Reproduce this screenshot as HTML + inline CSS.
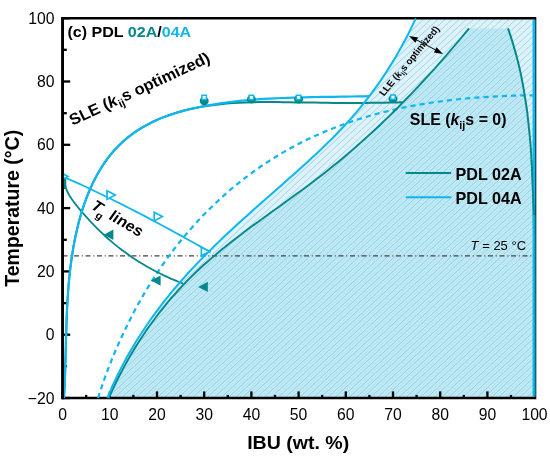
<!DOCTYPE html>
<html><head><meta charset="utf-8"><title>PDL 02A/04A phase diagram</title>
<style>
html,body{margin:0;padding:0;background:#fff;}
body{width:550px;height:462px;overflow:hidden;}
svg{display:block;}
text{font-family:"Liberation Sans",Arial,Helvetica,sans-serif;fill:#000;}
.b{font-weight:bold;}
.i{font-style:italic;}
</style></head><body>
<svg width="550" height="462" viewBox="0 0 550 462">
<defs>
<clipPath id="cp"><rect x="62.6" y="18.2" width="472" height="379.8"/></clipPath>
<clipPath id="cp3"><rect x="62.6" y="18.2" width="472.4" height="381.1"/></clipPath>
<clipPath id="cp2"><rect x="62.6" y="0" width="480" height="420"/></clipPath>
</defs>
<rect width="550" height="462" fill="#fff"/>
<g clip-path="url(#cp)">
<path d="M107.4,398.0 L109.8,392.2 L112.2,386.5 L114.8,380.8 L117.5,375.2 L120.3,369.6 L123.2,364.1 L126.1,358.6 L129.2,353.1 L132.4,347.7 L135.6,342.3 L138.9,337.0 L142.3,331.7 L145.8,326.5 L149.4,321.3 L153.0,316.2 L156.7,311.2 L160.5,306.1 L164.3,301.2 L168.2,296.3 L172.2,291.4 L176.2,286.6 L180.3,281.9 L184.5,277.2 L188.6,272.5 L192.9,267.9 L197.2,263.4 L201.5,258.9 L205.9,254.5 L210.3,250.1 L214.7,245.7 L219.2,241.4 L223.7,237.0 L228.3,232.8 L232.9,228.5 L237.4,224.3 L242.1,220.1 L246.7,215.9 L251.4,211.7 L256.0,207.6 L260.7,203.4 L265.4,199.3 L270.1,195.2 L274.8,191.0 L279.5,186.9 L284.2,182.7 L288.9,178.6 L293.6,174.4 L298.3,170.3 L302.9,166.1 L307.5,161.9 L312.1,157.6 L316.7,153.4 L321.2,149.1 L325.7,144.7 L330.2,140.4 L334.6,136.0 L338.9,131.5 L343.2,127.0 L347.4,122.4 L351.5,117.8 L355.6,113.1 L359.6,108.3 L363.5,103.5 L367.4,98.6 L371.2,93.7 L374.9,88.6 L378.5,83.6 L382.1,78.4 L385.5,73.2 L388.9,67.9 L392.2,62.6 L395.5,57.3 L398.6,51.8 L401.7,46.3 L404.7,40.8 L407.6,35.2 L410.4,29.6 L413.1,23.9 L415.8,18.2 L534.6,18.2 L534.6,398 Z" fill="#daf3fc"/>
<path d="M108.8,398.0 L111.2,392.6 L113.7,387.3 L116.2,382.0 L118.9,376.8 L121.6,371.6 L124.3,366.4 L127.2,361.2 L130.1,356.1 L133.1,351.1 L136.2,346.1 L139.3,341.1 L142.5,336.2 L145.8,331.3 L149.1,326.5 L152.6,321.7 L156.1,317.0 L159.6,312.4 L163.3,307.8 L167.0,303.2 L170.7,298.7 L174.6,294.3 L178.5,290.0 L182.5,285.7 L186.5,281.5 L190.6,277.4 L194.8,273.3 L199.0,269.3 L203.3,265.3 L207.7,261.5 L212.1,257.6 L216.5,253.9 L221.1,250.1 L225.6,246.5 L230.2,242.8 L234.8,239.2 L239.4,235.7 L244.1,232.1 L248.8,228.6 L253.5,225.1 L258.3,221.7 L263.0,218.2 L267.8,214.8 L272.6,211.3 L277.3,207.9 L282.1,204.5 L286.9,201.0 L291.6,197.6 L296.4,194.1 L301.1,190.7 L305.8,187.2 L310.5,183.7 L315.2,180.1 L319.9,176.5 L324.5,172.9 L329.1,169.3 L333.6,165.6 L338.2,161.9 L342.6,158.2 L347.1,154.4 L351.5,150.6 L356.0,146.8 L360.3,142.9 L364.7,139.0 L369.0,135.1 L373.3,131.2 L377.6,127.2 L381.8,123.2 L386.0,119.1 L390.2,115.1 L394.4,111.0 L398.5,106.8 L402.6,102.7 L406.7,98.5 L410.8,94.3 L414.8,90.1 L418.8,85.8 L422.8,81.5 L426.8,77.2 L430.7,72.9 L434.7,68.6 L438.6,64.2 L442.4,59.8 L446.3,55.4 L450.1,50.9 L453.9,46.5 L457.7,42.0 L461.5,37.5 L465.3,32.9 L469.0,28.4 L508.0,28.4 L510.3,35.1 L512.4,41.8 L514.4,48.6 L516.3,55.3 L518.1,62.2 L519.7,69.0 L521.2,75.9 L522.5,82.8 L523.8,89.7 L524.9,96.6 L526.0,103.6 L527.0,110.5 L527.8,117.5 L528.6,124.5 L529.3,131.5 L530.0,138.5 L530.6,145.6 L531.1,152.6 L531.5,159.7 L531.9,166.7 L532.3,173.7 L532.6,180.8 L532.8,187.8 L533.1,194.9 L533.3,201.9 L533.5,209.0 L533.7,216.0 L533.8,223.0 L534.0,230.0 L534.6,398 Z" fill="#beebf7"/>
<clipPath id="cb"><path d="M107.4,398.0 L109.8,392.2 L112.2,386.5 L114.8,380.8 L117.5,375.2 L120.3,369.6 L123.2,364.1 L126.1,358.6 L129.2,353.1 L132.4,347.7 L135.6,342.3 L138.9,337.0 L142.3,331.7 L145.8,326.5 L149.4,321.3 L153.0,316.2 L156.7,311.2 L160.5,306.1 L164.3,301.2 L168.2,296.3 L172.2,291.4 L176.2,286.6 L180.3,281.9 L184.5,277.2 L188.6,272.5 L192.9,267.9 L197.2,263.4 L201.5,258.9 L205.9,254.5 L210.3,250.1 L214.7,245.7 L219.2,241.4 L223.7,237.0 L228.3,232.8 L232.9,228.5 L237.4,224.3 L242.1,220.1 L246.7,215.9 L251.4,211.7 L256.0,207.6 L260.7,203.4 L265.4,199.3 L270.1,195.2 L274.8,191.0 L279.5,186.9 L284.2,182.7 L288.9,178.6 L293.6,174.4 L298.3,170.3 L302.9,166.1 L307.5,161.9 L312.1,157.6 L316.7,153.4 L321.2,149.1 L325.7,144.7 L330.2,140.4 L334.6,136.0 L338.9,131.5 L343.2,127.0 L347.4,122.4 L351.5,117.8 L355.6,113.1 L359.6,108.3 L363.5,103.5 L367.4,98.6 L371.2,93.7 L374.9,88.6 L378.5,83.6 L382.1,78.4 L385.5,73.2 L388.9,67.9 L392.2,62.6 L395.5,57.3 L398.6,51.8 L401.7,46.3 L404.7,40.8 L407.6,35.2 L410.4,29.6 L413.1,23.9 L415.8,18.2 L534.6,18.2 L534.6,398 Z"/></clipPath>
<clipPath id="ct"><path d="M108.8,398.0 L111.2,392.6 L113.7,387.3 L116.2,382.0 L118.9,376.8 L121.6,371.6 L124.3,366.4 L127.2,361.2 L130.1,356.1 L133.1,351.1 L136.2,346.1 L139.3,341.1 L142.5,336.2 L145.8,331.3 L149.1,326.5 L152.6,321.7 L156.1,317.0 L159.6,312.4 L163.3,307.8 L167.0,303.2 L170.7,298.7 L174.6,294.3 L178.5,290.0 L182.5,285.7 L186.5,281.5 L190.6,277.4 L194.8,273.3 L199.0,269.3 L203.3,265.3 L207.7,261.5 L212.1,257.6 L216.5,253.9 L221.1,250.1 L225.6,246.5 L230.2,242.8 L234.8,239.2 L239.4,235.7 L244.1,232.1 L248.8,228.6 L253.5,225.1 L258.3,221.7 L263.0,218.2 L267.8,214.8 L272.6,211.3 L277.3,207.9 L282.1,204.5 L286.9,201.0 L291.6,197.6 L296.4,194.1 L301.1,190.7 L305.8,187.2 L310.5,183.7 L315.2,180.1 L319.9,176.5 L324.5,172.9 L329.1,169.3 L333.6,165.6 L338.2,161.9 L342.6,158.2 L347.1,154.4 L351.5,150.6 L356.0,146.8 L360.3,142.9 L364.7,139.0 L369.0,135.1 L373.3,131.2 L377.6,127.2 L381.8,123.2 L386.0,119.1 L390.2,115.1 L394.4,111.0 L398.5,106.8 L402.6,102.7 L406.7,98.5 L410.8,94.3 L414.8,90.1 L418.8,85.8 L422.8,81.5 L426.8,77.2 L430.7,72.9 L434.7,68.6 L438.6,64.2 L442.4,59.8 L446.3,55.4 L450.1,50.9 L453.9,46.5 L457.7,42.0 L461.5,37.5 L465.3,32.9 L469.0,28.4 L508.0,28.4 L510.3,35.1 L512.4,41.8 L514.4,48.6 L516.3,55.3 L518.1,62.2 L519.7,69.0 L521.2,75.9 L522.5,82.8 L523.8,89.7 L524.9,96.6 L526.0,103.6 L527.0,110.5 L527.8,117.5 L528.6,124.5 L529.3,131.5 L530.0,138.5 L530.6,145.6 L531.1,152.6 L531.5,159.7 L531.9,166.7 L532.3,173.7 L532.6,180.8 L532.8,187.8 L533.1,194.9 L533.3,201.9 L533.5,209.0 L533.7,216.0 L533.8,223.0 L534.0,230.0 L534.6,398 Z"/></clipPath>
<g clip-path="url(#cb)"><path d="M-326.0,398 L106.0,-2 M-318.9,398 L113.1,-2 M-311.8,398 L120.2,-2 M-304.7,398 L127.3,-2 M-297.6,398 L134.4,-2 M-290.5,398 L141.5,-2 M-283.4,398 L148.6,-2 M-276.3,398 L155.7,-2 M-269.2,398 L162.8,-2 M-262.1,398 L169.9,-2 M-255.0,398 L177.0,-2 M-247.9,398 L184.1,-2 M-240.8,398 L191.2,-2 M-233.7,398 L198.3,-2 M-226.6,398 L205.4,-2 M-219.5,398 L212.5,-2 M-212.4,398 L219.6,-2 M-205.3,398 L226.7,-2 M-198.2,398 L233.8,-2 M-191.1,398 L240.9,-2 M-184.0,398 L248.0,-2 M-176.9,398 L255.1,-2 M-169.8,398 L262.2,-2 M-162.7,398 L269.3,-2 M-155.6,398 L276.4,-2 M-148.5,398 L283.5,-2 M-141.4,398 L290.6,-2 M-134.3,398 L297.7,-2 M-127.2,398 L304.8,-2 M-120.1,398 L311.9,-2 M-113.0,398 L319.0,-2 M-105.9,398 L326.1,-2 M-98.8,398 L333.2,-2 M-91.7,398 L340.3,-2 M-84.6,398 L347.4,-2 M-77.5,398 L354.5,-2 M-70.4,398 L361.6,-2 M-63.3,398 L368.7,-2 M-56.2,398 L375.8,-2 M-49.1,398 L382.9,-2 M-42.0,398 L390.0,-2 M-34.9,398 L397.1,-2 M-27.8,398 L404.2,-2 M-20.7,398 L411.3,-2 M-13.6,398 L418.4,-2 M-6.5,398 L425.5,-2 M0.6,398 L432.6,-2 M7.7,398 L439.7,-2 M14.8,398 L446.8,-2 M21.9,398 L453.9,-2 M29.0,398 L461.0,-2 M36.1,398 L468.1,-2 M43.2,398 L475.2,-2 M50.3,398 L482.3,-2 M57.4,398 L489.4,-2 M64.5,398 L496.5,-2 M71.6,398 L503.6,-2 M78.7,398 L510.7,-2 M85.8,398 L517.8,-2 M92.9,398 L524.9,-2 M100.0,398 L532.0,-2 M107.1,398 L539.1,-2 M114.2,398 L546.2,-2 M121.3,398 L553.3,-2 M128.4,398 L560.4,-2 M135.5,398 L567.5,-2 M142.6,398 L574.6,-2 M149.7,398 L581.7,-2 M156.8,398 L588.8,-2 M163.9,398 L595.9,-2 M171.0,398 L603.0,-2 M178.1,398 L610.1,-2 M185.2,398 L617.2,-2 M192.3,398 L624.3,-2 M199.4,398 L631.4,-2 M206.5,398 L638.5,-2 M213.6,398 L645.6,-2 M220.7,398 L652.7,-2 M227.8,398 L659.8,-2 M234.9,398 L666.9,-2 M242.0,398 L674.0,-2 M249.1,398 L681.1,-2 M256.2,398 L688.2,-2 M263.3,398 L695.3,-2 M270.4,398 L702.4,-2 M277.5,398 L709.5,-2 M284.6,398 L716.6,-2 M291.7,398 L723.7,-2 M298.8,398 L730.8,-2 M305.9,398 L737.9,-2 M313.0,398 L745.0,-2 M320.1,398 L752.1,-2 M327.2,398 L759.2,-2 M334.3,398 L766.3,-2 M341.4,398 L773.4,-2 M348.5,398 L780.5,-2 M355.6,398 L787.6,-2 M362.7,398 L794.7,-2 M369.8,398 L801.8,-2 M376.9,398 L808.9,-2 M384.0,398 L816.0,-2 M391.1,398 L823.1,-2 M398.2,398 L830.2,-2 M405.3,398 L837.3,-2 M412.4,398 L844.4,-2 M419.5,398 L851.5,-2 M426.6,398 L858.6,-2 M433.7,398 L865.7,-2 M440.8,398 L872.8,-2 M447.9,398 L879.9,-2 M455.0,398 L887.0,-2 M462.1,398 L894.1,-2 M469.2,398 L901.2,-2 M476.3,398 L908.3,-2 M483.4,398 L915.4,-2 M490.5,398 L922.5,-2 M497.6,398 L929.6,-2 M504.7,398 L936.7,-2 M511.8,398 L943.8,-2 M518.9,398 L950.9,-2 M526.0,398 L958.0,-2 M533.1,398 L965.1,-2 M540.2,398 L972.2,-2 M547.3,398 L979.3,-2 M554.4,398 L986.4,-2 M561.5,398 L993.5,-2 M568.6,398 L1000.6,-2 M575.7,398 L1007.7,-2 M582.8,398 L1014.8,-2 M589.9,398 L1021.9,-2 M597.0,398 L1029.0,-2 M604.1,398 L1036.1,-2 M611.2,398 L1043.2,-2 M618.3,398 L1050.3,-2 M625.4,398 L1057.4,-2 M632.5,398 L1064.5,-2 M639.6,398 L1071.6,-2 M646.7,398 L1078.7,-2 M653.8,398 L1085.8,-2 M660.9,398 L1092.9,-2 M668.0,398 L1100.0,-2 M675.1,398 L1107.1,-2 M682.2,398 L1114.2,-2 M689.3,398 L1121.3,-2 M696.4,398 L1128.4,-2 M703.5,398 L1135.5,-2 M710.6,398 L1142.6,-2 M717.7,398 L1149.7,-2 M724.8,398 L1156.8,-2 M731.9,398 L1163.9,-2 M739.0,398 L1171.0,-2 M746.1,398 L1178.1,-2 M753.2,398 L1185.2,-2 M760.3,398 L1192.3,-2 M767.4,398 L1199.4,-2 M774.5,398 L1206.5,-2 M781.6,398 L1213.6,-2 M788.7,398 L1220.7,-2 M795.8,398 L1227.8,-2 M802.9,398 L1234.9,-2 M810.0,398 L1242.0,-2 M817.1,398 L1249.1,-2 M824.2,398 L1256.2,-2 M831.3,398 L1263.3,-2 M838.4,398 L1270.4,-2 M845.5,398 L1277.5,-2 M852.6,398 L1284.6,-2 M859.7,398 L1291.7,-2 M866.8,398 L1298.8,-2 M873.9,398 L1305.9,-2 M881.0,398 L1313.0,-2 M888.1,398 L1320.1,-2 M895.2,398 L1327.2,-2 M902.3,398 L1334.3,-2 M909.4,398 L1341.4,-2 M916.5,398 L1348.5,-2 M923.6,398 L1355.6,-2 M930.7,398 L1362.7,-2 M937.8,398 L1369.8,-2 M944.9,398 L1376.9,-2 M952.0,398 L1384.0,-2 M959.1,398 L1391.1,-2 M966.2,398 L1398.2,-2" stroke="#5b8093" stroke-opacity="0.38" stroke-width="0.8" fill="none"/></g>
<g clip-path="url(#ct)"><path d="M-322.4,398 L109.5,-2 M-315.3,398 L116.6,-2 M-308.2,398 L123.7,-2 M-301.1,398 L130.8,-2 M-294.0,398 L137.9,-2 M-286.9,398 L145.0,-2 M-279.8,398 L152.1,-2 M-272.7,398 L159.2,-2 M-265.6,398 L166.3,-2 M-258.5,398 L173.4,-2 M-251.4,398 L180.5,-2 M-244.3,398 L187.6,-2 M-237.2,398 L194.7,-2 M-230.1,398 L201.8,-2 M-223.0,398 L208.9,-2 M-215.9,398 L216.0,-2 M-208.8,398 L223.1,-2 M-201.7,398 L230.2,-2 M-194.6,398 L237.3,-2 M-187.5,398 L244.4,-2 M-180.4,398 L251.5,-2 M-173.3,398 L258.6,-2 M-166.2,398 L265.7,-2 M-159.1,398 L272.8,-2 M-152.0,398 L279.9,-2 M-144.9,398 L287.0,-2 M-137.8,398 L294.1,-2 M-130.7,398 L301.2,-2 M-123.6,398 L308.3,-2 M-116.5,398 L315.4,-2 M-109.4,398 L322.5,-2 M-102.3,398 L329.6,-2 M-95.2,398 L336.7,-2 M-88.1,398 L343.8,-2 M-81.0,398 L350.9,-2 M-73.9,398 L358.0,-2 M-66.8,398 L365.1,-2 M-59.7,398 L372.2,-2 M-52.6,398 L379.3,-2 M-45.5,398 L386.4,-2 M-38.4,398 L393.5,-2 M-31.3,398 L400.6,-2 M-24.2,398 L407.7,-2 M-17.1,398 L414.8,-2 M-10.0,398 L421.9,-2 M-2.9,398 L429.0,-2 M4.2,398 L436.1,-2 M11.3,398 L443.2,-2 M18.4,398 L450.3,-2 M25.5,398 L457.4,-2 M32.6,398 L464.5,-2 M39.7,398 L471.6,-2 M46.8,398 L478.7,-2 M53.9,398 L485.8,-2 M61.0,398 L492.9,-2 M68.1,398 L500.0,-2 M75.2,398 L507.1,-2 M82.3,398 L514.2,-2 M89.4,398 L521.3,-2 M96.5,398 L528.4,-2 M103.6,398 L535.5,-2 M110.7,398 L542.6,-2 M117.8,398 L549.7,-2 M124.9,398 L556.8,-2 M132.0,398 L563.9,-2 M139.1,398 L571.0,-2 M146.2,398 L578.1,-2 M153.3,398 L585.2,-2 M160.4,398 L592.3,-2 M167.5,398 L599.4,-2 M174.6,398 L606.5,-2 M181.7,398 L613.6,-2 M188.8,398 L620.7,-2 M195.8,398 L627.8,-2 M202.9,398 L634.9,-2 M210.0,398 L642.0,-2 M217.1,398 L649.1,-2 M224.2,398 L656.2,-2 M231.3,398 L663.3,-2 M238.4,398 L670.4,-2 M245.5,398 L677.5,-2 M252.6,398 L684.6,-2 M259.7,398 L691.7,-2 M266.8,398 L698.8,-2 M273.9,398 L705.9,-2 M281.1,398 L713.0,-2 M288.2,398 L720.1,-2 M295.3,398 L727.2,-2 M302.4,398 L734.3,-2 M309.5,398 L741.4,-2 M316.6,398 L748.5,-2 M323.7,398 L755.6,-2 M330.8,398 L762.7,-2 M337.9,398 L769.8,-2 M345.0,398 L776.9,-2 M352.1,398 L784.0,-2 M359.2,398 L791.1,-2 M366.3,398 L798.2,-2 M373.4,398 L805.3,-2 M380.5,398 L812.4,-2 M387.6,398 L819.5,-2 M394.7,398 L826.6,-2 M401.8,398 L833.7,-2 M408.9,398 L840.8,-2 M416.0,398 L847.9,-2 M423.1,398 L855.0,-2 M430.2,398 L862.1,-2 M437.3,398 L869.2,-2 M444.4,398 L876.3,-2 M451.5,398 L883.4,-2 M458.6,398 L890.5,-2 M465.7,398 L897.6,-2 M472.8,398 L904.7,-2 M479.9,398 L911.8,-2 M487.0,398 L918.9,-2 M494.1,398 L926.0,-2 M501.2,398 L933.1,-2 M508.3,398 L940.2,-2 M515.4,398 L947.3,-2 M522.5,398 L954.4,-2 M529.6,398 L961.5,-2 M536.7,398 L968.6,-2 M543.8,398 L975.7,-2 M550.9,398 L982.8,-2 M558.0,398 L989.9,-2 M565.1,398 L997.0,-2 M572.2,398 L1004.1,-2 M579.3,398 L1011.2,-2 M586.4,398 L1018.3,-2 M593.5,398 L1025.4,-2 M600.6,398 L1032.5,-2 M607.7,398 L1039.6,-2 M614.8,398 L1046.7,-2 M621.9,398 L1053.8,-2 M629.0,398 L1060.9,-2 M636.1,398 L1068.0,-2 M643.2,398 L1075.1,-2 M650.3,398 L1082.2,-2 M657.4,398 L1089.3,-2 M664.5,398 L1096.4,-2 M671.6,398 L1103.5,-2 M678.7,398 L1110.6,-2 M685.8,398 L1117.7,-2 M692.9,398 L1124.8,-2 M700.0,398 L1131.9,-2 M707.1,398 L1139.0,-2 M714.2,398 L1146.1,-2 M721.3,398 L1153.2,-2 M728.4,398 L1160.3,-2 M735.5,398 L1167.4,-2 M742.6,398 L1174.5,-2 M749.7,398 L1181.6,-2 M756.8,398 L1188.7,-2 M763.9,398 L1195.8,-2 M771.0,398 L1202.9,-2 M778.1,398 L1210.0,-2 M785.2,398 L1217.1,-2 M792.3,398 L1224.2,-2 M799.4,398 L1231.3,-2 M806.5,398 L1238.4,-2 M813.6,398 L1245.5,-2 M820.7,398 L1252.6,-2 M827.8,398 L1259.7,-2 M834.9,398 L1266.8,-2 M842.0,398 L1273.9,-2 M849.1,398 L1281.0,-2 M856.2,398 L1288.1,-2 M863.3,398 L1295.2,-2 M870.4,398 L1302.3,-2 M877.5,398 L1309.4,-2 M884.6,398 L1316.5,-2 M891.7,398 L1323.6,-2 M898.8,398 L1330.7,-2 M905.9,398 L1337.8,-2 M913.0,398 L1344.9,-2 M920.1,398 L1352.0,-2 M927.2,398 L1359.1,-2 M934.3,398 L1366.2,-2 M941.4,398 L1373.3,-2 M948.5,398 L1380.4,-2 M955.6,398 L1387.5,-2 M962.7,398 L1394.6,-2 M969.8,398 L1401.7,-2" stroke="#3f9fb5" stroke-opacity="0.14" stroke-width="0.7" fill="none"/></g>
</g>
<path d="M62.6,17 V399.3 M61.3,398 H536.2 M535,399.3 V17 M61.3,18.3 H536.2" stroke="#000" stroke-width="2.6" fill="none"/>
<g stroke="#000" stroke-width="2.3">
<line x1="62.6" y1="398" x2="62.6" y2="391.4"/>
<line x1="109.8" y1="398" x2="109.8" y2="391.4"/>
<line x1="157.0" y1="398" x2="157.0" y2="391.4"/>
<line x1="204.2" y1="398" x2="204.2" y2="391.4"/>
<line x1="251.4" y1="398" x2="251.4" y2="391.4"/>
<line x1="298.6" y1="398" x2="298.6" y2="391.4"/>
<line x1="345.8" y1="398" x2="345.8" y2="391.4"/>
<line x1="393.0" y1="398" x2="393.0" y2="391.4"/>
<line x1="440.2" y1="398" x2="440.2" y2="391.4"/>
<line x1="487.4" y1="398" x2="487.4" y2="391.4"/>
<line x1="534.5" y1="398" x2="534.5" y2="391.4"/>
<line x1="86.2" y1="398" x2="86.2" y2="394.9"/>
<line x1="133.4" y1="398" x2="133.4" y2="394.9"/>
<line x1="180.6" y1="398" x2="180.6" y2="394.9"/>
<line x1="227.8" y1="398" x2="227.8" y2="394.9"/>
<line x1="275.0" y1="398" x2="275.0" y2="394.9"/>
<line x1="322.2" y1="398" x2="322.2" y2="394.9"/>
<line x1="369.4" y1="398" x2="369.4" y2="394.9"/>
<line x1="416.6" y1="398" x2="416.6" y2="394.9"/>
<line x1="463.8" y1="398" x2="463.8" y2="394.9"/>
<line x1="511.0" y1="398" x2="511.0" y2="394.9"/>
<line x1="62.6" y1="398.0" x2="70.2" y2="398.0"/>
<line x1="62.6" y1="334.7" x2="70.2" y2="334.7"/>
<line x1="62.6" y1="271.4" x2="70.2" y2="271.4"/>
<line x1="62.6" y1="208.1" x2="70.2" y2="208.1"/>
<line x1="62.6" y1="144.8" x2="70.2" y2="144.8"/>
<line x1="62.6" y1="81.5" x2="70.2" y2="81.5"/>
<line x1="62.6" y1="18.2" x2="70.2" y2="18.2"/>
<line x1="62.6" y1="366.3" x2="66.8" y2="366.3"/>
<line x1="62.6" y1="303.1" x2="66.8" y2="303.1"/>
<line x1="62.6" y1="239.8" x2="66.8" y2="239.8"/>
<line x1="62.6" y1="176.4" x2="66.8" y2="176.4"/>
<line x1="62.6" y1="113.2" x2="66.8" y2="113.2"/>
<line x1="62.6" y1="49.8" x2="66.8" y2="49.8"/>
</g>
<g clip-path="url(#cp3)">
<line x1="64" y1="255.8" x2="534" y2="255.8" stroke="#454545" stroke-width="1.25" stroke-dasharray="5 2.8 1 2.7" stroke-dashoffset="1.5"/>
<path d="M98.0,398.0 L99.6,393.0 L101.3,388.0 L103.0,383.0 L104.7,378.1 L106.6,373.1 L108.4,368.2 L110.3,363.3 L112.3,358.4 L114.3,353.5 L116.4,348.6 L118.5,343.8 L120.7,339.0 L122.9,334.2 L125.2,329.4 L127.5,324.6 L129.9,319.9 L132.3,315.2 L134.7,310.5 L137.2,305.9 L139.8,301.3 L142.4,296.7 L145.1,292.1 L147.8,287.6 L150.6,283.1 L153.4,278.6 L156.3,274.2 L159.2,269.8 L162.2,265.5 L165.2,261.2 L168.3,256.9 L171.4,252.7 L174.6,248.5 L177.9,244.3 L181.2,240.2 L184.5,236.1 L187.9,232.1 L191.4,228.2 L194.9,224.2 L198.5,220.3 L202.1,216.5 L205.8,212.7 L209.5,209.0 L213.3,205.3 L217.1,201.7 L221.0,198.1 L224.9,194.6 L228.8,191.1 L232.8,187.7 L236.9,184.4 L241.0,181.1 L245.2,177.8 L249.4,174.7 L253.6,171.6 L257.9,168.5 L262.2,165.5 L266.6,162.6 L271.0,159.8 L275.5,157.0 L280.0,154.2 L284.5,151.6 L289.1,149.0 L293.7,146.5 L298.3,144.0 L303.0,141.6 L307.8,139.3 L312.5,137.1 L317.3,134.9 L322.1,132.8 L327.0,130.7 L331.9,128.8 L336.8,126.8 L341.7,125.0 L346.7,123.2 L351.7,121.5 L356.7,119.8 L361.8,118.2 L366.8,116.7 L371.9,115.2 L377.0,113.8 L382.1,112.5 L387.3,111.2 L392.4,110.0 L397.6,108.8 L402.8,107.7 L408.0,106.7 L413.2,105.7 L418.5,104.7 L423.7,103.9 L428.9,103.0 L434.2,102.2 L439.4,101.5 L444.7,100.8 L450.0,100.2 L455.3,99.6 L460.5,99.0 L465.8,98.5 L471.1,98.0 L476.4,97.6 L481.6,97.2 L486.9,96.9 L492.2,96.6 L497.4,96.3 L502.7,96.1 L507.9,95.9 L513.2,95.7 L518.4,95.5 L523.6,95.4 L528.8,95.4 L534.0,95.3" fill="none" stroke="#10b6ee" stroke-width="2.2" stroke-dasharray="5.2 4"/>
<path d="M64.0,398.0 L64.3,391.8 L64.6,385.6 L64.9,379.4 L65.1,373.1 L65.3,366.9 L65.4,360.6 L65.6,354.4 L65.8,348.1 L65.9,341.8 L66.1,335.6 L66.3,329.3 L66.5,323.0 L66.7,316.7 L67.0,310.4 L67.3,304.1 L67.7,297.9 L68.1,291.6 L68.6,285.3 L69.1,279.0 L69.8,272.7 L70.5,266.5 L71.3,260.2 L72.3,253.9 L73.3,247.7 L74.4,241.4 L75.7,235.2 L77.1,229.0 L78.6,222.8 L80.3,216.6 L82.1,210.5 L84.1,204.5 L86.3,198.5 L88.6,192.7 L91.1,186.9 L93.7,181.3 L96.6,175.8 L99.7,170.4 L102.9,165.2 L106.4,160.1 L110.1,155.3 L114.1,150.6 L118.2,146.2 L122.6,142.0 L127.3,138.0 L132.1,134.2 L137.2,130.7 L142.4,127.4 L147.9,124.4 L153.4,121.5 L159.1,118.9 L165.0,116.6 L170.9,114.5 L176.9,112.5 L183.0,110.8 L189.2,109.3 L195.4,108.0 L201.6,106.8 L207.9,105.8 L214.1,104.9 L220.4,104.2 L226.7,103.6 L233.0,103.1 L239.3,102.7 L245.6,102.4 L251.9,102.2 L258.2,102.1 L264.5,102.1 L270.9,102.1 L277.2,102.1 L283.5,102.2 L289.8,102.2 L296.2,102.4 L302.5,102.5 L308.8,102.6 L315.1,102.6 L321.5,102.7 L327.8,102.8 L334.1,102.9 L340.4,102.9 L346.7,102.9 L352.9,102.9 L359.2,102.9 L365.4,102.9 L371.7,102.8 L377.9,102.8 L384.1,102.7 L390.3,102.5 L396.5,102.4 L402.6,102.2" fill="none" stroke="#05888a" stroke-width="2"/>
<path d="M108.8,398.0 L111.2,392.6 L113.7,387.3 L116.2,382.0 L118.9,376.8 L121.6,371.6 L124.3,366.4 L127.2,361.2 L130.1,356.1 L133.1,351.1 L136.2,346.1 L139.3,341.1 L142.5,336.2 L145.8,331.3 L149.1,326.5 L152.6,321.7 L156.1,317.0 L159.6,312.4 L163.3,307.8 L167.0,303.2 L170.7,298.7 L174.6,294.3 L178.5,290.0 L182.5,285.7 L186.5,281.5 L190.6,277.4 L194.8,273.3 L199.0,269.3 L203.3,265.3 L207.7,261.5 L212.1,257.6 L216.5,253.9 L221.1,250.1 L225.6,246.5 L230.2,242.8 L234.8,239.2 L239.4,235.7 L244.1,232.1 L248.8,228.6 L253.5,225.1 L258.3,221.7 L263.0,218.2 L267.8,214.8 L272.6,211.3 L277.3,207.9 L282.1,204.5 L286.9,201.0 L291.6,197.6 L296.4,194.1 L301.1,190.7 L305.8,187.2 L310.5,183.7 L315.2,180.1 L319.9,176.5 L324.5,172.9 L329.1,169.3 L333.6,165.6 L338.2,161.9 L342.6,158.2 L347.1,154.4 L351.5,150.6 L356.0,146.8 L360.3,142.9 L364.7,139.0 L369.0,135.1 L373.3,131.2 L377.6,127.2 L381.8,123.2 L386.0,119.1 L390.2,115.1 L394.4,111.0 L398.5,106.8 L402.6,102.7 L406.7,98.5 L410.8,94.3 L414.8,90.1 L418.8,85.8 L422.8,81.5 L426.8,77.2 L430.7,72.9 L434.7,68.6 L438.6,64.2 L442.4,59.8 L446.3,55.4 L450.1,50.9 L453.9,46.5 L457.7,42.0 L461.5,37.5 L465.3,32.9 L469.0,28.4" fill="none" stroke="#05888a" stroke-width="1.9"/>
<path d="M508.0,28.4 L510.3,35.1 L512.4,41.8 L514.4,48.6 L516.3,55.3 L518.1,62.2 L519.7,69.0 L521.2,75.9 L522.5,82.8 L523.8,89.7 L524.9,96.6 L526.0,103.6 L527.0,110.5 L527.8,117.5 L528.6,124.5 L529.3,131.5 L530.0,138.5 L530.6,145.6 L531.1,152.6 L531.5,159.7 L531.9,166.7 L532.3,173.7 L532.6,180.8 L532.8,187.8 L533.1,194.9 L533.3,201.9 L533.5,209.0 L533.7,216.0 L533.8,223.0 L534.0,230.0" fill="none" stroke="#05888a" stroke-width="2"/>
<path d="M64.4,181.0 L64.9,184.7 L66.0,188.4 L67.5,192.0 L69.4,195.5 L71.7,199.0 L74.1,202.4 L76.8,205.8 L79.5,209.1 L82.3,212.4 L85.1,215.6 L87.9,218.7 L90.8,221.8 L93.7,224.9 L96.6,227.8 L99.6,230.8 L102.6,233.6 L105.6,236.5 L108.7,239.2 L111.9,241.9 L115.0,244.6 L118.2,247.1 L121.5,249.7 L124.8,252.1 L128.2,254.5 L131.5,256.9 L135.0,259.2 L138.4,261.4 L141.9,263.6 L145.5,265.7 L149.1,267.7 L152.7,269.7 L156.4,271.7 L160.1,273.5 L163.8,275.4 L167.6,277.1 L171.4,278.8 L175.2,280.4 L179.1,282.0 L183.0,283.5" fill="none" stroke="#05888a" stroke-width="1.8"/>
<path d="M64.0,398.0 L64.3,392.1 L64.6,386.2 L64.8,380.2 L65.1,374.3 L65.2,368.4 L65.4,362.5 L65.6,356.6 L65.7,350.7 L65.9,344.8 L66.0,339.0 L66.2,333.1 L66.4,327.2 L66.6,321.3 L66.8,315.4 L67.0,309.5 L67.3,303.7 L67.7,297.8 L68.1,291.9 L68.5,286.0 L69.1,280.2 L69.7,274.3 L70.3,268.4 L71.1,262.6 L71.9,256.7 L72.8,250.8 L73.8,244.9 L75.0,239.1 L76.2,233.2 L77.6,227.3 L79.0,221.5 L80.6,215.7 L82.4,209.9 L84.2,204.2 L86.3,198.5 L88.4,193.0 L90.8,187.5 L93.3,182.1 L95.9,176.9 L98.8,171.8 L101.8,166.8 L105.0,162.0 L108.4,157.3 L112.0,152.8 L115.8,148.5 L119.8,144.5 L124.0,140.6 L128.4,136.9 L133.0,133.5 L137.8,130.2 L142.8,127.2 L147.9,124.4 L153.1,121.7 L158.5,119.3 L164.0,117.1 L169.5,115.1 L175.2,113.2 L180.9,111.6 L186.7,110.0 L192.5,108.6 L198.4,107.3 L204.3,106.1 L210.1,105.1 L216.0,104.1 L221.9,103.2 L227.8,102.3 L233.8,101.6 L239.7,100.9 L245.6,100.3 L251.6,99.8 L257.5,99.3 L263.4,98.9 L269.4,98.6 L275.3,98.3 L281.3,98.0 L287.2,97.8 L293.2,97.6 L299.1,97.4 L305.0,97.3 L310.9,97.1 L316.8,97.0 L322.7,96.9 L328.6,96.9 L334.5,96.8 L340.4,96.7 L346.2,96.6 L352.1,96.5 L357.9,96.4 L363.7,96.3 L369.5,96.1" fill="none" stroke="#10b6ee" stroke-width="2.2"/>
<path d="M107.4,398.0 L109.8,392.2 L112.2,386.5 L114.8,380.8 L117.5,375.2 L120.3,369.6 L123.2,364.1 L126.1,358.6 L129.2,353.1 L132.4,347.7 L135.6,342.3 L138.9,337.0 L142.3,331.7 L145.8,326.5 L149.4,321.3 L153.0,316.2 L156.7,311.2 L160.5,306.1 L164.3,301.2 L168.2,296.3 L172.2,291.4 L176.2,286.6 L180.3,281.9 L184.5,277.2 L188.6,272.5 L192.9,267.9 L197.2,263.4 L201.5,258.9 L205.9,254.5 L210.3,250.1 L214.7,245.7 L219.2,241.4 L223.7,237.0 L228.3,232.8 L232.9,228.5 L237.4,224.3 L242.1,220.1 L246.7,215.9 L251.4,211.7 L256.0,207.6 L260.7,203.4 L265.4,199.3 L270.1,195.2 L274.8,191.0 L279.5,186.9 L284.2,182.7 L288.9,178.6 L293.6,174.4 L298.3,170.3 L302.9,166.1 L307.5,161.9 L312.1,157.6 L316.7,153.4 L321.2,149.1 L325.7,144.7 L330.2,140.4 L334.6,136.0 L338.9,131.5 L343.2,127.0 L347.4,122.4 L351.5,117.8 L355.6,113.1 L359.6,108.3 L363.5,103.5 L367.4,98.6 L371.2,93.7 L374.9,88.6 L378.5,83.6 L382.1,78.4 L385.5,73.2 L388.9,67.9 L392.2,62.6 L395.5,57.3 L398.6,51.8 L401.7,46.3 L404.7,40.8 L407.6,35.2 L410.4,29.6 L413.1,23.9 L415.8,18.2" fill="none" stroke="#10b6ee" stroke-width="2.0"/>
<path d="M62.6,176.4 L67.8,178.7 L73.1,181.1 L78.3,183.4 L83.5,185.8 L88.7,188.2 L93.9,190.7 L99.1,193.2 L104.2,195.7 L109.4,198.2 L114.5,200.7 L119.7,203.3 L124.8,205.9 L129.9,208.5 L135.0,211.1 L140.1,213.7 L145.2,216.4 L150.2,219.1 L155.3,221.7 L160.4,224.5 L165.4,227.2 L170.5,229.9 L175.5,232.7 L180.5,235.4 L185.5,238.2 L190.5,241.0 L195.5,243.8 L200.5,246.6 L205.5,249.5 L210.5,252.3" fill="none" stroke="#10b6ee" stroke-width="1.8"/>
</g>
<line x1="534" y1="19.6" x2="534" y2="396.7" stroke="#10b6ee" stroke-width="2.9"/>
<line x1="535" y1="215" x2="535" y2="396.7" stroke="#05888a" stroke-width="1.4" stroke-opacity="0.6"/>
<path d="M531.6,160.0 L532.2,172.0 L532.6,185.0 L533.2,198.0 L534.2,215.0" fill="none" stroke="#05888a" stroke-width="1.6"/>
<text transform="translate(62.6,419.5) scale(0.965,1)" font-size="16.3" text-anchor="middle">0</text>
<text transform="translate(109.8,419.5) scale(0.965,1)" font-size="16.3" text-anchor="middle">10</text>
<text transform="translate(157.0,419.5) scale(0.965,1)" font-size="16.3" text-anchor="middle">20</text>
<text transform="translate(204.2,419.5) scale(0.965,1)" font-size="16.3" text-anchor="middle">30</text>
<text transform="translate(251.4,419.5) scale(0.965,1)" font-size="16.3" text-anchor="middle">40</text>
<text transform="translate(298.6,419.5) scale(0.965,1)" font-size="16.3" text-anchor="middle">50</text>
<text transform="translate(345.8,419.5) scale(0.965,1)" font-size="16.3" text-anchor="middle">60</text>
<text transform="translate(393.0,419.5) scale(0.965,1)" font-size="16.3" text-anchor="middle">70</text>
<text transform="translate(440.2,419.5) scale(0.965,1)" font-size="16.3" text-anchor="middle">80</text>
<text transform="translate(487.4,419.5) scale(0.965,1)" font-size="16.3" text-anchor="middle">90</text>
<text transform="translate(534.5,419.5) scale(0.965,1)" font-size="16.3" text-anchor="middle">100</text>
<text transform="translate(54.4,403.5) scale(0.965,1)" font-size="16.3" text-anchor="end">−20</text>
<text transform="translate(54.4,340.2) scale(0.965,1)" font-size="16.3" text-anchor="end">0</text>
<text transform="translate(54.4,276.9) scale(0.965,1)" font-size="16.3" text-anchor="end">20</text>
<text transform="translate(54.4,213.6) scale(0.965,1)" font-size="16.3" text-anchor="end">40</text>
<text transform="translate(54.4,150.3) scale(0.965,1)" font-size="16.3" text-anchor="end">60</text>
<text transform="translate(54.4,87.0) scale(0.965,1)" font-size="16.3" text-anchor="end">80</text>
<text transform="translate(54.4,23.7) scale(0.965,1)" font-size="16.3" text-anchor="end">100</text>
<g clip-path="url(#cp2)">
<rect x="63.6" y="178.6" width="2.7" height="10.4" fill="#05888a"/>
<path d="M59.8,172.1 L68.0,176.4 L59.8,180.8 Z" fill="#fff" stroke="#10b6ee" stroke-width="1.7" stroke-linejoin="miter"/>
<path d="M107.0,190.8 L115.2,195.1 L107.0,199.4 Z" fill="#fff" stroke="#10b6ee" stroke-width="1.7" stroke-linejoin="miter"/>
<path d="M154.2,212.3 L162.4,216.6 L154.2,220.9 Z" fill="#fff" stroke="#10b6ee" stroke-width="1.7" stroke-linejoin="miter"/>
<path d="M201.4,247.2 L209.6,251.5 L201.4,255.8 Z" fill="#fff" stroke="#10b6ee" stroke-width="1.7" stroke-linejoin="miter"/>
</g>
<path d="M113.4,229.5 L103.8,234.7 L113.4,239.9 Z" fill="#05888a"/>
<path d="M160.6,275.4 L151.0,280.6 L160.6,285.8 Z" fill="#05888a"/>
<path d="M207.8,281.7 L198.2,286.9 L207.8,292.1 Z" fill="#05888a"/>
<ellipse cx="204.2" cy="101.0" rx="4.5" ry="4.2" fill="#05888a"/>
<rect x="201.9" y="95.3" width="4.5" height="4.3" fill="#fff" stroke="#10b6ee" stroke-width="1.5"/>
<ellipse cx="251.4" cy="99.4" rx="4.5" ry="4.2" fill="#05888a"/>
<rect x="249.1" y="95.3" width="4.5" height="4.3" fill="#fff" stroke="#10b6ee" stroke-width="1.5"/>
<ellipse cx="298.6" cy="99.4" rx="4.5" ry="4.2" fill="#05888a"/>
<rect x="296.3" y="95.3" width="4.5" height="4.3" fill="#fff" stroke="#10b6ee" stroke-width="1.5"/>
<ellipse cx="393.0" cy="98.9" rx="4.5" ry="4.2" fill="#05888a"/>
<rect x="390.7" y="95.0" width="4.5" height="4.3" fill="#fff" stroke="#10b6ee" stroke-width="1.5"/>
<line x1="62.6" y1="16.9" x2="62.6" y2="399.3" stroke="#000" stroke-width="2.6"/>
<line x1="405.7" y1="172.9" x2="451.2" y2="172.9" stroke="#05888a" stroke-width="2"/>
<line x1="405.7" y1="197.2" x2="451.2" y2="197.2" stroke="#10b6ee" stroke-width="2"/>
<text class="b" transform="translate(455.5,179.7) scale(0.975,1)" font-size="16.6">PDL 02A</text>
<text class="b" transform="translate(455.5,203.6) scale(0.975,1)" font-size="16.6">PDL 04A</text>
<text class="b" transform="translate(67.5,37.0) scale(1.100,1)" font-size="14.6">(c) PDL <tspan fill="#05888a">02A</tspan>/<tspan fill="#10b6ee">04A</tspan></text>
<text class="b" transform="translate(72.6,125.8) scale(1.030,1) rotate(-25.5)" font-size="16.0">SLE (<tspan class="i">k</tspan><tspan font-size="10.9" dy="3.8">ij</tspan><tspan dy="-3.8">s</tspan> optimized)</text>
<text class="b" transform="translate(409.8,124.9) scale(0.995,1)" font-size="16.0">SLE (<tspan class="i">k</tspan><tspan font-size="10.9" dy="3.8">ij</tspan><tspan dy="-3.8">s</tspan> = 0)</text>
<text class="b" transform="translate(383.9,96.6) scale(1.080,1) rotate(-52.5)" font-size="9.2">LLE (<tspan class="i">k</tspan><tspan font-size="6.3" dy="2.2">ij</tspan><tspan dy="-2.2">s</tspan> optimized)</text>
<text class="b" transform="translate(90.0,208.0) scale(1.100,1) rotate(33.0)" font-size="15.0"><tspan class="i">T</tspan><tspan font-size="10" dy="5.4" dx="-0.8">g</tspan><tspan dy="-5.4" dx="0.6"> lines</tspan></text>
<text transform="translate(470.6,249.5) scale(1.050,1)" font-size="12.4"><tspan class="i">T</tspan> = 25 °C</text>
<g fill="#000" stroke="none"><line x1="413" y1="38" x2="439.5" y2="52" stroke="#000" stroke-width="1"/>
<path d="M409.0,36.0 L418.1,37.6 L415.4,42.7 Z"/>
<path d="M443.0,54.0 L433.9,52.4 L436.6,47.3 Z"/>
</g>
<text class="b" transform="translate(298.2,449.4) scale(1.030,1)" font-size="19.0" text-anchor="middle">IBU (wt. %)</text>
<text class="b" transform="translate(19.0,208.3) scale(1.020,1) rotate(-90.0)" font-size="19.5" text-anchor="middle">Temperature (°C)</text>
</svg></body></html>
